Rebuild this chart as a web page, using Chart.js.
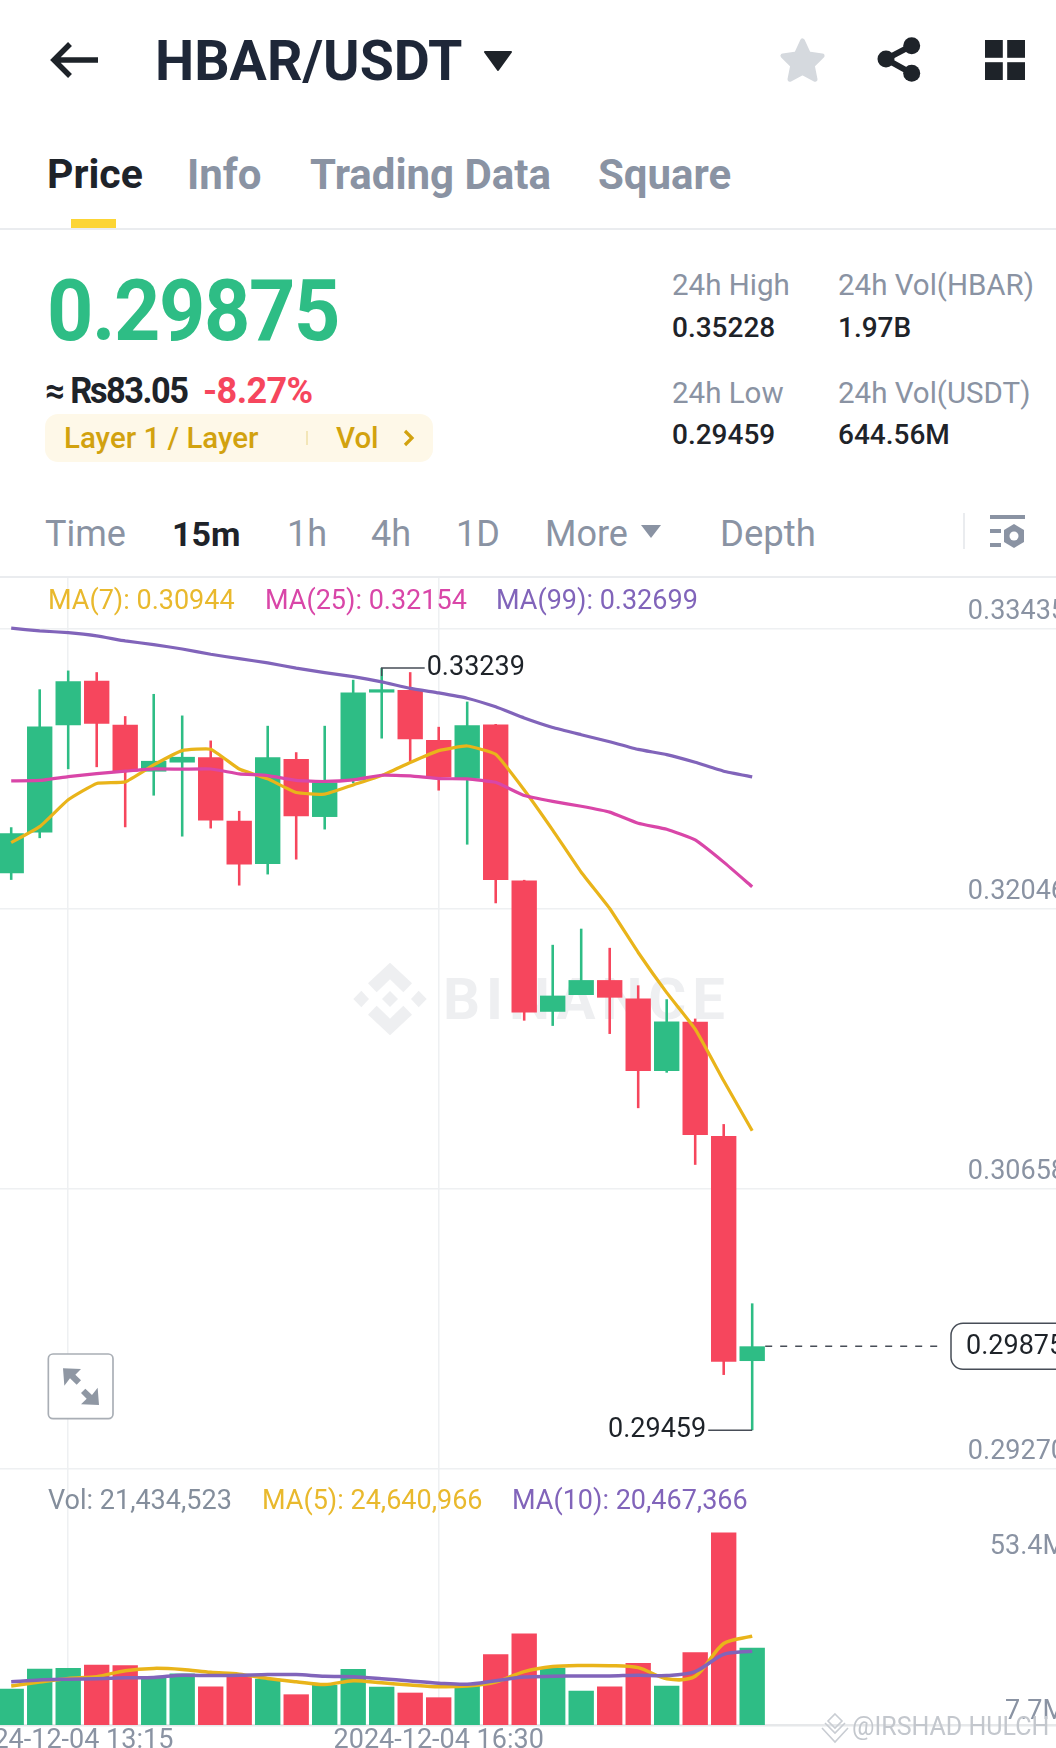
<!DOCTYPE html>
<html>
<head>
<meta charset="utf-8">
<title>HBAR/USDT</title>
<script src="https://cdn.jsdelivr.net/npm/chart.js@4"></script>
<style>
  html,body{margin:0;padding:0;background:#fff;}
  body{position:relative;width:1056px;height:1748px;overflow:hidden;font-family:Roboto,sans-serif;color:#1e2329;}
  .t{position:absolute;white-space:nowrap;line-height:1;}
  .tab{font-size:42px;font-weight:700;top:154px;color:#8a93a3;}
  .per{font-size:36px;top:516px;color:#8a93a3;}
  .lab{font-size:29.5px;color:#8a93a3;}
  .val{font-size:28px;font-weight:500;color:#1e2329;}
  .leg{font-size:27px;}
  .rule{position:absolute;left:0;width:1056px;background:#eaecef;}
  canvas{position:absolute;left:0;}
  svg{position:absolute;}
</style>
</head>
<body>
<!-- cabecalho -->
<svg style="left:50px;top:40px" width="50" height="40" viewBox="0 0 50 40"><path d="M20 4 L4 20 L20 36 M4 20 H48" fill="none" stroke="#1e2329" stroke-width="5.5"/></svg>
<div class="t" style="left:155px;top:34px;font-size:55.5px;font-weight:700;color:#1e2738">HBAR/USDT</div>
<svg style="left:483px;top:50px" width="30" height="22"><path d="M2 2 H28 L15 20 Z" fill="#1e2329" stroke="#1e2329" stroke-width="2" stroke-linejoin="round"/></svg>
<svg style="left:779px;top:37px" width="47" height="47" viewBox="0 0 24 24"><path d="M12 2 L15 8.6 L22 9.6 L17 14.6 L18.4 21.6 L12 18.2 L5.6 21.6 L7 14.6 L2 9.6 L9 8.6 Z" fill="#d5d9de" stroke="#d5d9de" stroke-width="2.5" stroke-linejoin="round"/></svg>
<svg style="left:875px;top:36px" width="48" height="48" viewBox="0 0 48 48"><path d="M36.7 9.7 L11 23 L36.7 37.3" fill="none" stroke="#1e2329" stroke-width="6"/><circle cx="36.7" cy="9.7" r="8.5" fill="#1e2329"/><circle cx="11" cy="23" r="8.5" fill="#1e2329"/><circle cx="36.7" cy="37.3" r="8.5" fill="#1e2329"/></svg>
<svg style="left:985px;top:40px" width="40" height="40"><g fill="#1e2329"><rect x="0" y="0" width="17.8" height="17.8"/><rect x="22.2" y="0" width="17.8" height="17.8"/><rect x="0" y="22.2" width="17.8" height="17.8"/><rect x="22.2" y="22.2" width="17.8" height="17.8"/></g></svg>

<div class="t tab" style="left:47px;color:#1e2329;font-size:41px">Price</div>
<div class="t tab" style="left:187px">Info</div>
<div class="t tab" style="left:310px">Trading Data</div>
<div class="t tab" style="left:598px">Square</div>
<div style="position:absolute;left:71px;top:219px;width:45px;height:9px;background:#fcd535"></div>
<div class="rule" style="top:228px;height:2px"></div>

<div class="t" style="left:47px;top:268px;font-size:86px;font-weight:700;color:#2ebd85;letter-spacing:-1.5px;transform:scaleX(.94);transform-origin:left">0.29875</div>
<div class="t" style="left:45px;top:373px;font-size:36px;font-weight:700;letter-spacing:-1.6px;transform:scaleX(.955);transform-origin:left">≈ ₨83.05</div>
<div class="t" style="left:203px;top:373px;font-size:36px;font-weight:700;color:#f6465d;letter-spacing:-.6px">-8.27%</div>
<div style="position:absolute;left:45px;top:414px;width:388px;height:48px;border-radius:13px;background:#fef8e8"></div>
<div class="t" style="left:64px;top:424px;font-size:29.5px;font-weight:500;color:#d2a20f">Layer 1 / Layer</div>
<div style="position:absolute;left:306px;top:431px;width:2px;height:14px;background:#f3e6b8"></div>
<div class="t" style="left:336px;top:424px;font-size:29.5px;font-weight:500;color:#d2a20f">Vol</div>
<svg style="left:402px;top:428px" width="14" height="20"><path d="M3 3 L10 10 L3 17" fill="none" stroke="#d2a20f" stroke-width="3.2"/></svg>

<div class="t lab" style="left:672px;top:271px">24h High</div>
<div class="t val" style="left:672px;top:314px">0.35228</div>
<div class="t lab" style="left:838px;top:271px">24h Vol(HBAR)</div>
<div class="t val" style="left:838px;top:314px">1.97B</div>
<div class="t lab" style="left:672px;top:379px">24h Low</div>
<div class="t val" style="left:672px;top:421px">0.29459</div>
<div class="t lab" style="left:838px;top:379px">24h Vol(USDT)</div>
<div class="t val" style="left:838px;top:421px">644.56M</div>

<div class="t per" style="left:45px">Time</div>
<div class="t per" style="left:172px;color:#1e2329;font-weight:700;font-size:34px;top:517px">15m</div>
<div class="t per" style="left:287px">1h</div>
<div class="t per" style="left:371px">4h</div>
<div class="t per" style="left:456px">1D</div>
<div class="t per" style="left:545px">More</div>
<svg style="left:640px;top:524px" width="22" height="15"><path d="M1 1 H21 L11 14 Z" fill="#8a93a3"/></svg>
<div class="t per" style="left:720px;font-size:36.5px">Depth</div>
<div style="position:absolute;left:963px;top:513px;width:2px;height:36px;background:#eaecef"></div>
<svg style="left:990px;top:514px" width="36" height="36"><g fill="#8a93a3"><rect x="0" y="1" width="35" height="4"/><rect x="0" y="15" width="11" height="4"/><rect x="0" y="29" width="11" height="4"/><path d="M24 10 L34 16 V28 L24 34 L14 28 V16 Z"/></g><circle cx="24" cy="22" r="4.5" fill="#fff"/></svg>
<div class="rule" style="top:576px;height:2px"></div>

<!-- marca d'agua atras do grafico -->
<svg style="left:340px;top:950px" width="100" height="100" viewBox="0 0 300 300"><g fill="#eeeff1"><path d="M150 38 L216 100 L190 127 L150 88 L110 127 L84 100 Z"/><path d="M150 256 L216 194 L190 167 L150 206 L110 167 L84 194 Z"/><path d="M40 147 L64 122 L87 147 L64 172 Z"/><path d="M260 147 L236 122 L213 147 L236 172 Z"/><path d="M150 123 L174 147 L150 171 L126 147 Z"/></g></svg>
<div class="t" style="left:443px;top:970px;font-size:58px;font-weight:700;color:#eeeff1;letter-spacing:6px">BINANCE</div>

<canvas id="chartPrice" width="1056" height="900" style="top:578px"></canvas>
<canvas id="chartVol" width="1056" height="270" style="top:1478px"></canvas>

<div class="t leg" style="left:48px;top:587px;color:#e9b92d">MA(7): 0.30944</div>
<div class="t leg" style="left:265px;top:587px;color:#d946a8">MA(25): 0.32154</div>
<div class="t leg" style="left:496px;top:587px;color:#8164ba">MA(99): 0.32699</div>
<div class="t leg" style="left:48px;top:1487px;color:#848e9c">Vol: 21,434,523</div>
<div class="t leg" style="left:262px;top:1487px;color:#e9b92d">MA(5): 24,640,966</div>
<div class="t leg" style="left:512px;top:1487px;color:#8164ba">MA(10): 20,467,366</div>

<svg style="left:30px;top:1340px" width="100" height="90" viewBox="0 0 300 270"><rect x="55" y="42" width="194" height="194" rx="14" fill="#fff" stroke="#a9aeb5" stroke-width="5"/><g fill="#8f97a3"><path d="M99 85 L153 87 L136 104 L153 121 L140 134 L120 115 L103 137 Z"/><path d="M207 195 L153 193 L170 176 L153 159 L166 146 L186 165 L203 143 Z"/></g></svg>

<svg style="left:820px;top:1712px" width="30" height="32" viewBox="0 0 30 32"><g fill="none" stroke="#c9cdd3" stroke-width="1.6"><path d="M15 2 L22 9 L15 16 L8 9 Z"/><path d="M5 11 L15 21 L25 11"/><path d="M2 16 L15 30 L28 16"/></g></svg>
<div class="t" style="left:852px;top:1714px;font-size:25px;color:#c3c7cd">@IRSHAD HULCH</div>

<script>
const labels = ["12:45","13:00","13:15","13:30","13:45","14:00","14:15","14:30","14:45","15:00","15:15","15:30","15:45","16:00","16:15","16:30","16:45","17:00","17:15","17:30","17:45","18:00","18:15","18:30","18:45","19:00","19:15"];
const opens  = [0.32221,0.32423,0.32955,0.33176,0.32957,0.32725,0.32770,0.32796,0.32481,0.32267,0.32788,0.32500,0.32681,0.33117,0.33130,0.32882,0.32690,0.32958,0.32185,0.31534,0.31617,0.31691,0.31600,0.31240,0.31485,0.30918,0.29802];
const closes = [0.32419,0.32948,0.33173,0.32962,0.32725,0.32778,0.32798,0.32482,0.32264,0.32796,0.32504,0.32671,0.33117,0.33133,0.32885,0.32697,0.32955,0.32188,0.31530,0.31614,0.31691,0.31604,0.31240,0.31486,0.30923,0.29799,0.29875];
const highs  = [0.32449,0.33133,0.33226,0.33218,0.33000,0.33110,0.33003,0.32879,0.32530,0.32952,0.32821,0.32952,0.33180,0.33239,0.33218,0.32947,0.33072,0.32961,0.32188,0.31866,0.31946,0.31851,0.31665,0.31596,0.31500,0.30977,0.30088];
const lows   = [0.32188,0.32395,0.32737,0.32747,0.32449,0.32606,0.32403,0.32443,0.32160,0.32215,0.32289,0.32438,0.32667,0.32889,0.32775,0.32631,0.32363,0.32072,0.31490,0.31464,0.31617,0.31424,0.31056,0.31232,0.30775,0.29733,0.29459];
const ma7  = [0.32373,0.32452,0.32585,0.32666,0.32674,0.32758,0.32829,0.32836,0.32738,0.32689,0.32621,0.32613,0.32659,0.32705,0.32770,0.32829,0.32852,0.32811,0.32634,0.32435,0.32226,0.32046,0.31828,0.31629,0.31448,0.31192,0.30944];
const ma25 = [0.32679,0.32681,0.32700,0.32715,0.32727,0.32738,0.32737,0.32738,0.32714,0.32705,0.32681,0.32676,0.32684,0.32707,0.32704,0.32690,0.32689,0.32672,0.32606,0.32577,0.32553,0.32524,0.32469,0.32439,0.32386,0.32276,0.32154];
const ma99 = [0.33436,0.33423,0.33414,0.33398,0.33373,0.33355,0.33333,0.33307,0.33285,0.33264,0.33238,0.33216,0.33196,0.33170,0.33138,0.33115,0.33089,0.33046,0.32991,0.32944,0.32908,0.32873,0.32835,0.32809,0.32771,0.32727,0.32699];
const priceTicks = [0.33435,0.32046,0.30658,0.29270];

// volume em milhoes
const vols   = [10.08,15.6,15.8,16.7,16.55,13.4,14.3,10.7,13.9,12.85,8.5,11.1,15.5,10.6,8.97,7.67,10.8,19.6,25.4,15.9,9.5,10.7,17.2,10.9,20.2,53.4,21.43];
const volMa5  = [10.8,11.9,12.9,13.4,15.07,15.7,15.4,14.6,14.1,12.9,12.0,11.2,12.3,11.7,11.1,10.6,10.8,11.9,14.8,16.2,16.5,16.45,15.9,12.8,13.5,22.6,24.64];
const volMa10 = [12.0,12.5,12.7,12.85,13.1,13.2,13.8,13.7,13.8,14.0,14.0,13.5,13.4,12.85,12.2,11.6,11.3,12.3,13.3,13.5,13.6,13.6,13.8,13.7,14.8,19.6,20.47];
const volTicks = [53.4,7.7];
const timeTicks = [2,15];
const datePrefix = "2024-12-04 ";

const UP = "#2ebd85", DOWN = "#f6465d", GRID = "#eef0f2", TICK = "#8a93a3", INK = "#1e2329", LEADER = "#474d57";
const FONT = { family:"Roboto", size:27 };
// escala x em indice de candle: 28.5px por candle, primeiro centro em x=11.2
const X_MIN = -0.393, X_MAX = 36.66;

const colors = opens.map((o,i)=> closes[i] >= o ? UP : DOWN);
const xy = arr => arr.map((v,i)=> ({ x:i, y:v }));
const maLine = (arr,color,width,tension)=> ({ type:"line", data:xy(arr), borderColor:color, borderWidth:width, pointRadius:0, tension, order:0, borderJoinStyle:"round" });
const fitY = s => { s.paddingTop = 0; s.paddingBottom = 0; s.width = 0; };

function xScale(showLabels){
  return {
    type:"linear", min:X_MIN, max:X_MAX, offset:false,
    afterBuildTicks: s => { s.ticks = timeTicks.map(v=>({ value:v })); },
    grid:{ offset:false, color:GRID, lineWidth:1.5, drawTicks:false },
    border: showLabels ? { display:true, color:"#e6e8ea", width:2.5 } : { display:false },
    ticks:{ display:showLabels, autoSkip:false, maxRotation:0, padding:0, color:TICK, font:FONT,
      callback: v => datePrefix + labels[v] },
    afterFit: s => { s.paddingLeft = 0; s.paddingRight = 0; if(showLabels) s.height = 23; }
  };
}

// rotulos de maxima/minima e preco atual
const annotations = {
  id:"annotations",
  afterDatasetsDraw(chart){
    const { ctx, scales:{ x, y } } = chart;
    const hi = highs.indexOf(Math.max(...highs)), lo = lows.indexOf(Math.min(...lows));
    const last = closes[closes.length-1];
    ctx.save();
    ctx.font = "27px Roboto";
    ctx.strokeStyle = LEADER; ctx.fillStyle = INK; ctx.lineWidth = 1.5;
    ctx.textBaseline = "middle";

    let px = x.getPixelForValue(hi), py = y.getPixelForValue(highs[hi]);
    ctx.beginPath(); ctx.moveTo(px,py+8); ctx.lineTo(px,py); ctx.lineTo(px+43,py); ctx.stroke();
    ctx.textAlign = "left";
    ctx.fillText(highs[hi].toFixed(5), px+45, py);

    px = x.getPixelForValue(lo); py = y.getPixelForValue(lows[lo]);
    ctx.beginPath(); ctx.moveTo(px,py); ctx.lineTo(px-44,py); ctx.stroke();
    ctx.textAlign = "right";
    ctx.fillText(lows[lo].toFixed(5), px-46, py);

    px = x.getPixelForValue(closes.length-1); py = y.getPixelForValue(last);
    ctx.setLineDash([7,8]);
    ctx.beginPath(); ctx.moveTo(px+13,py); ctx.lineTo(939,py); ctx.stroke();
    ctx.setLineDash([]);
    ctx.beginPath(); ctx.roundRect(951,py-23,130,46,12); ctx.fillStyle="#fff"; ctx.fill(); ctx.stroke();
    ctx.fillStyle = INK; ctx.textAlign = "left";
    ctx.fillText(last.toFixed(5), 966, py+1);
    ctx.restore();
  }
};

new Chart(document.getElementById("chartPrice"), {
  type:"bar",
  data:{ datasets:[
    maLine(ma99,"#8164ba",3.2,0.12),
    maLine(ma25,"#d946a8",3.2,0.12),
    maLine(ma7,"#e9b41a",3.2,0.12),
    { data:opens.map((o,i)=> ({ x:i, y:[o,closes[i]] })), backgroundColor:colors, grouped:false, barPercentage:0.89, categoryPercentage:1, order:1 },
    { data:lows.map((l,i)=> ({ x:i, y:[l,highs[i]] })), backgroundColor:colors, grouped:false, barPercentage:0.09, categoryPercentage:1, order:2 }
  ]},
  options:{
    responsive:false, animation:false, events:[],
    layout:{ padding:0, autoPadding:false },
    plugins:{ legend:{ display:false }, tooltip:{ enabled:false } },
    scales:{
      x:xScale(false),
      y:{ position:"right", min:0.29222, max:0.33685,
        afterBuildTicks: s => { s.ticks = priceTicks.map(v=>({ value:v })); },
        afterFit:fitY,
        grid:{ color:GRID, lineWidth:1.5, drawTicks:false },
        border:{ display:false },
        ticks:{ mirror:true, padding:10, labelOffset:-16, color:TICK, font:FONT, callback: v => v.toFixed(5) }
      }
    }
  },
  plugins:[annotations]
});

new Chart(document.getElementById("chartVol"), {
  type:"bar",
  data:{ datasets:[
    maLine(volMa10,"#8164ba",3.5,0.3),
    maLine(volMa5,"#e9b41a",3.5,0.3),
    { data:xy(vols), backgroundColor:colors, grouped:false, barPercentage:0.89, categoryPercentage:1, order:1 }
  ]},
  options:{
    responsive:false, animation:false, events:[],
    layout:{ padding:0, autoPadding:false },
    plugins:{ legend:{ display:false }, tooltip:{ enabled:false } },
    scales:{
      x:xScale(true),
      y:{ position:"right", min:0, max:68.5,
        afterBuildTicks: s => { s.ticks = volTicks.map(v=>({ value:v })); },
        afterFit:fitY,
        grid:{ display:false },
        border:{ display:false },
        ticks:{ mirror:true, padding:10, labelOffset:15, color:TICK, font:FONT, callback: v => v.toFixed(1)+"M" }
      }
    }
  }
});
</script>
</body>
</html>
